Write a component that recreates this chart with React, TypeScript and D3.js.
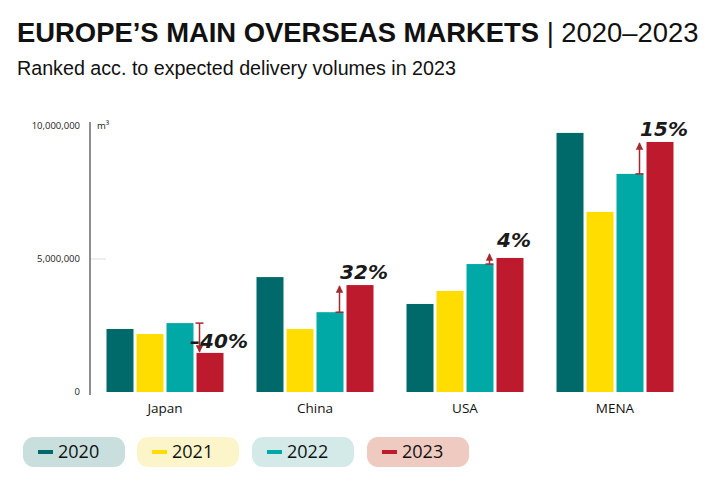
import { useRef, useEffect } from 'react';
import * as d3 from 'd3';

const markets = ['Japan', 'China', 'USA', 'MENA'];
const years = ['2020', '2021', '2022', '2023'];
const v2020 = [2370000, 4320000, 3310000, 9740000];
const v2021 = [2180000, 2370000, 3800000, 6770000];
const v2022 = [2590000, 3000000, 4810000, 8200000];
const v2023 = [1470000, 4020000, 5040000, 9400000];
const changeLabels = ['–40%', '32%', '4%', '15%'];
const yTicks = [0, 5000000, 10000000];

const barColors = ['#006a6a', '#ffdd00', '#00a9a5', '#be1a2e'];
const pillColors = ['#c8dfde', '#fdf5ca', '#d3eae9', '#efcac1'];
const arrowColor = '#a52a30';

function App() {
  const svgRef = useRef<SVGSVGElement>(null);

  useEffect(() => {
    const width = 713;
    const height = 486;
    const svg = d3.select(svgRef.current);
    svg.selectAll('*').remove();
    svg.attr('width', width).attr('height', height);

    const series = [v2020, v2021, v2022, v2023];

    // titles
    const title = svg.append('text')
      .attr('x', 17).attr('y', 42)
      .attr('font-family', 'Liberation Sans, Arial, sans-serif')
      .attr('font-size', 27.4)
      .attr('fill', '#111');
    title.append('tspan').attr('font-weight', 'bold').text('EUROPE’S MAIN OVERSEAS MARKETS');
    title.append('tspan').text(' | 2020–2023');

    svg.append('text')
      .attr('x', 17).attr('y', 75)
      .attr('font-family', 'Liberation Sans, Arial, sans-serif')
      .attr('font-size', 19.7)
      .attr('fill', '#111')
      .text('Ranked acc. to expected delivery volumes in 2023');

    const x0 = d3.scaleBand().domain(markets).range([90, 690]).paddingInner(0.2).paddingOuter(0.1);
    const x1 = d3.scaleBand().domain(years).range([0, x0.bandwidth()]).paddingInner(0.1).paddingOuter(0.05);
    const y = d3.scaleLinear().domain([0, 10000000]).range([392, 126]);

    // axis
    const axis = svg.append('g');
    axis.append('line')
      .attr('x1', 90).attr('x2', 90)
      .attr('y1', 122).attr('y2', 395)
      .attr('stroke', '#444').attr('stroke-width', 1.2);
    axis.selectAll('text.tick')
      .data(yTicks)
      .enter()
      .append('text')
      .attr('class', 'tick')
      .attr('x', 80)
      .attr('y', d => y(d))
      .attr('dy', '0.35em')
      .attr('text-anchor', 'end')
      .attr('font-family', 'Open Sans, sans-serif')
      .attr('font-size', 9.5)
      .attr('fill', '#222')
      .text(d => d3.format(',')(d));
    axis.append('line')
      .attr('x1', 91).attr('x2', 106)
      .attr('y1', y(5000000)).attr('y2', y(5000000))
      .attr('stroke', '#ddd');
    axis.append('text')
      .attr('x', 97).attr('y', y(10000000))
      .attr('dy', '0.35em')
      .attr('font-family', 'Open Sans, sans-serif')
      .attr('font-size', 9.5)
      .attr('fill', '#222')
      .text('m³');

    // bars
    const groups = svg.append('g').selectAll('g')
      .data(markets)
      .enter()
      .append('g')
      .attr('transform', d => `translate(${x0(d)},0)`);

    groups.selectAll('rect')
      .data((_, i) => series.map((s, j) => ({ year: years[j], value: s[i], j })))
      .enter()
      .append('rect')
      .attr('x', d => x1(d.year)!)
      .attr('y', d => y(d.value))
      .attr('width', x1.bandwidth())
      .attr('height', d => y(0) - y(d.value))
      .attr('fill', d => barColors[d.j]);

    // category labels
    svg.append('g').selectAll('text')
      .data(markets)
      .enter()
      .append('text')
      .attr('x', d => x0(d)! + x0.bandwidth() / 2)
      .attr('y', 413)
      .attr('text-anchor', 'middle')
      .attr('font-family', 'Open Sans, sans-serif')
      .attr('font-size', 13.5)
      .attr('fill', '#111')
      .text(d => d);

    // change arrows
    const defs = svg.append('defs');
    defs.append('marker')
      .attr('id', 'head')
      .attr('viewBox', '0 0 10 10')
      .attr('refX', 9).attr('refY', 5)
      .attr('markerWidth', 5).attr('markerHeight', 5)
      .attr('orient', 'auto-start-reverse')
      .append('path')
      .attr('d', 'M0,0 L10,5 L0,10 Z')
      .attr('fill', arrowColor);

    markets.forEach((m, i) => {
      const from = y(v2022[i]);
      let to = y(v2023[i]);
      const up = v2023[i] > v2022[i];
      if (Math.abs(to - from) < 11) to = from - 11;
      const ax = up
        ? x0(m)! + x1('2022')! + x1.bandwidth() - 4
        : x0(m)! + x1('2023')! + 3;
      const g = svg.append('g');
      g.append('line')
        .attr('x1', ax - 4).attr('x2', ax + 4)
        .attr('y1', from).attr('y2', from)
        .attr('stroke', arrowColor).attr('stroke-width', 1.5);
      g.append('line')
        .attr('x1', ax).attr('x2', ax)
        .attr('y1', from).attr('y2', up ? to + 1 : to - 1)
        .attr('stroke', arrowColor).attr('stroke-width', 1.5)
        .attr('marker-end', 'url(#head)');

      const cx = x0(m)! + x1('2023')! + x1.bandwidth() / 2;
      g.append('text')
        .attr('x', up ? cx + 4 : cx + 9)
        .attr('y', up ? Math.min(to, y(v2023[i])) - 6 : y(v2023[i]) - 5)
        .attr('text-anchor', 'middle')
        .attr('font-family', 'DejaVu Sans, sans-serif')
        .attr('font-style', 'italic')
        .attr('font-weight', 'bold')
        .attr('font-size', 20)
        .attr('fill', '#1a1a1a')
        .text(changeLabels[i]);
    });

    // legend
    const legend = svg.append('g');
    const pillX = [23, 137, 252, 367];
    years.forEach((yr, i) => {
      const g = legend.append('g').attr('transform', `translate(${pillX[i]},437)`);
      g.append('rect')
        .attr('width', 102).attr('height', 30)
        .attr('rx', 11)
        .attr('fill', pillColors[i]);
      g.append('rect')
        .attr('x', 15).attr('y', 13)
        .attr('width', 15).attr('height', 4)
        .attr('fill', barColors[i]);
      g.append('text')
        .attr('x', 35).attr('y', 15)
        .attr('dy', '0.35em')
        .attr('font-family', 'Open Sans, sans-serif')
        .attr('font-size', 18)
        .attr('fill', '#111')
        .text(yr);
    });
  }, []);

  return <svg ref={svgRef} style={{ position: 'absolute', left: 0, top: 0 }}></svg>;
}

export default App;
